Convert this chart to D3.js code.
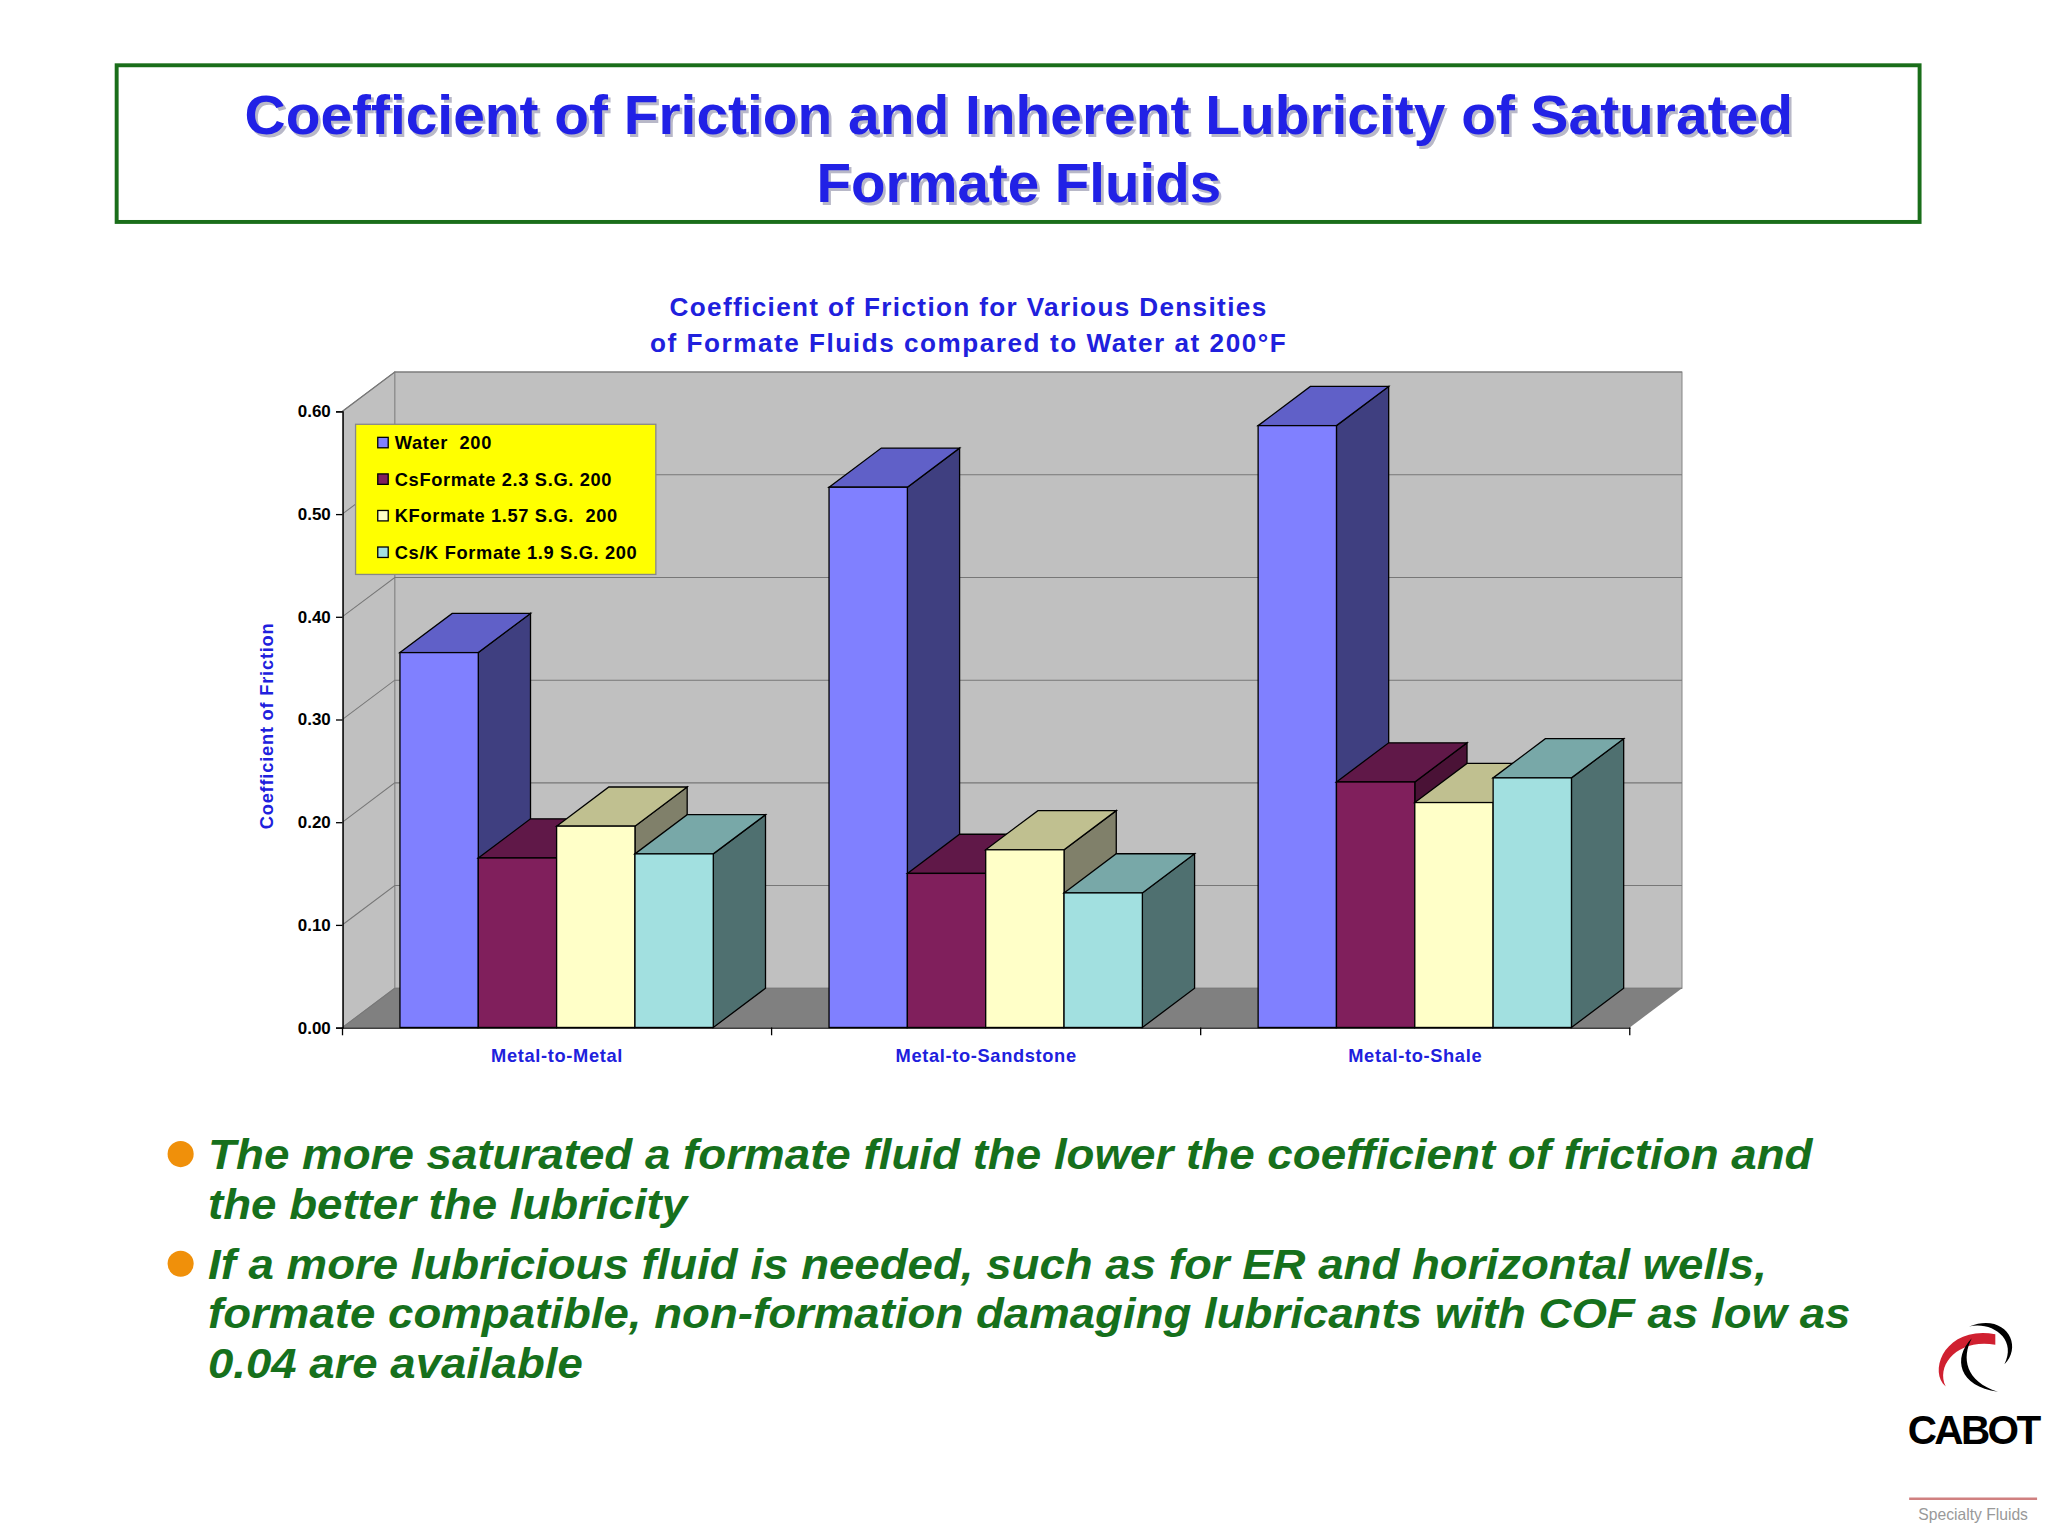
<!DOCTYPE html>
<html><head><meta charset="utf-8">
<script src="https://cdn.jsdelivr.net/npm/d3@7"></script>
<style>body{margin:0;background:#fff}svg{display:block}text{white-space:pre}</style>
</head><body>
<svg id="c" width="2048" height="1534" viewBox="0 0 1568 1175"></svg>
<script>
const categories = ["Metal-to-Metal","Metal-to-Sandstone","Metal-to-Shale"];
const seriesNames = ["Water  200","CsFormate 2.3 S.G. 200","KFormate 1.57 S.G.  200","Cs/K Formate 1.9 S.G. 200"];
const water = [0.365,0.526,0.586];
const csFormate = [0.165,0.150,0.239];
const kFormate = [0.196,0.173,0.219];
const csKFormate = [0.169,0.131,0.243];
const yTicks = [0,0.1,0.2,0.3,0.4,0.5,0.6];
const series = [water,csFormate,kFormate,csKFormate];
const colors = [
 {front:"#8080ff",top:"#6060c8",side:"#3f3f80"},
 {front:"#801f5c",top:"#601848",side:"#4a1236"},
 {front:"#ffffc8",top:"#c0c090",side:"#80806a"},
 {front:"#a2e0e0",top:"#78a8a8",side:"#4f7070"}];
const svg = d3.select("#c");
const font = "'Liberation Sans', Arial, sans-serif";
svg.append("rect").attr("x",89).attr("y",50).attr("width",1381).attr("height",120).attr("fill","none").attr("stroke","#1a6e1a").attr("stroke-width",3);
[["Coefficient of Friction and Inherent Lubricity of Saturated",88,1186],["Formate Fluids",140,310]].forEach(([t,y,len])=>{
  [[782,y+2,"#b8b8c8"],[780,y,"#2121e6"]].forEach(([xx,yy,f])=>
  svg.append("text").attr("x",xx).attr("y",yy).attr("dy","0.35em").attr("text-anchor","middle").attr("font-family",font).attr("font-weight","bold").attr("font-size",42).attr("textLength",len).attr("lengthAdjust","spacingAndGlyphs").attr("fill",f).text(t));
});
[["Coefficient of Friction for Various Densities",235,457],["of Formate Fluids compared to Water at 200°F",263,487]].forEach(([t,y,len])=>
 svg.append("text").attr("x",741).attr("y",y).attr("dy","0.35em").attr("text-anchor","middle").attr("font-family",font).attr("font-weight","bold").attr("font-size",20).attr("textLength",len).attr("fill","#2020dd").text(t));
const DX=40, DY=-30, X0=262, X1=1248, Yb=787;
const y = d3.scaleLinear().domain([0,0.6]).range([787,315]);
const x = d3.scaleBand().domain(categories).range([X0,X1]);
const g = svg.append("g");
g.append("polygon").attr("points",[[X0+DX,y(0.6)+DY],[X1+DX,y(0.6)+DY],[X1+DX,Yb+DY],[X0+DX,Yb+DY]].join(" ")).attr("fill","#c0c0c0").attr("stroke","#888").attr("stroke-width",0.8);
g.append("polygon").attr("points",[[X0,y(0.6)],[X0+DX,y(0.6)+DY],[X0+DX,Yb+DY],[X0,Yb]].join(" ")).attr("fill","#c0c0c0").attr("stroke","#888").attr("stroke-width",0.8);
g.append("polygon").attr("points",[[X0,Yb],[X0+DX,Yb+DY],[X1+DX,Yb+DY],[X1,Yb]].join(" ")).attr("fill","#808080");
yTicks.forEach(v=>{
  g.append("polyline").attr("points",[[X0,y(v)],[X0+DX,y(v)+DY],[X1+DX,y(v)+DY]].join(" ")).attr("fill","none").attr("stroke","#777").attr("stroke-width",0.8);
});
const ya = d3.axisLeft(y).tickValues(yTicks).tickFormat(d3.format(".2f")).tickSize(5);
const yg = svg.append("g").attr("transform",`translate(${X0},0)`).call(ya);
yg.selectAll("text").attr("font-family",font).attr("font-weight","bold").attr("font-size",13).attr("fill","#000").attr("dx",-1);
const xa = d3.axisBottom(x).tickSize(0);
const xg = svg.append("g").attr("transform",`translate(0,${Yb})`).call(xa);
xg.selectAll("text").attr("font-family",font).attr("font-weight","bold").attr("font-size",14).attr("fill","#2020dd").attr("dy","1.65em").attr("letter-spacing",0.5);
[X0,...categories.map(c=>x(c)+x.bandwidth())].forEach(px=>xg.append("line").attr("x1",px).attr("x2",px).attr("y1",0).attr("y2",6).attr("stroke","#000"));
svg.selectAll(".domain").attr("stroke","#000");
svg.append("text").attr("transform","translate(209,556) rotate(-90)").attr("text-anchor","middle").attr("font-family",font).attr("font-weight","bold").attr("font-size",14).attr("letter-spacing",0.6).attr("fill","#2020dd").text("Coefficient of Friction");
const bw = 60, off = 44;
categories.forEach((c,ci)=>{
  series.forEach((s,si)=>{
    const v=s[ci], x0=x(c)+off+si*bw, yt=y(v), col=colors[si];
    const bg=g.append("g").attr("stroke","#000").attr("stroke-width",1);
    bg.append("polygon").attr("points",[[x0+bw,yt],[x0+bw+DX,yt+DY],[x0+bw+DX,Yb+DY],[x0+bw,Yb]].join(" ")).attr("fill",col.side);
    bg.append("polygon").attr("points",[[x0,yt],[x0+DX,yt+DY],[x0+bw+DX,yt+DY],[x0+bw,yt]].join(" ")).attr("fill",col.top);
    bg.append("rect").attr("x",x0).attr("y",yt).attr("width",bw).attr("height",Yb-yt).attr("fill",col.front);
  });
});
const lg = svg.append("g");
lg.append("rect").attr("x",272).attr("y",325).attr("width",230).attr("height",115).attr("fill","#ffff00").attr("stroke","#888");
seriesNames.forEach((n,i)=>{
  const yy=339+i*28;
  lg.append("rect").attr("x",289).attr("y",yy-4).attr("width",8).attr("height",8).attr("fill",colors[i].front).attr("stroke","#000");
  lg.append("text").attr("x",302).attr("y",yy).attr("dy","0.35em").attr("font-family",font).attr("font-weight","bold").attr("font-size",14).attr("letter-spacing",0.5).text(n);
});
const bul=[[884,["The more saturated a formate fluid the lower the coefficient of friction and","the better the lubricity"],[1229,367]],[968,["If a more lubricious fluid is needed, such as for ER and horizontal wells,","formate compatible, non-formation damaging lubricants with COF as low as","0.04 are available"],[1194,1258,287]]];
bul.forEach(([y0,lines,lens])=>{
  svg.append("circle").attr("cx",138).attr("cy",y0).attr("r",10).attr("fill","#f0900a");
  lines.forEach((t,i)=>svg.append("text").attr("x",159).attr("y",y0+i*38).attr("dy","0.35em").attr("font-family",font).attr("font-weight","bold").attr("font-style","italic").attr("font-size",33).attr("textLength",lens[i]).attr("lengthAdjust","spacingAndGlyphs").attr("fill","#16701c").text(t));
});
const L=svg.append("g");
L.append("path").attr("d","M1528,1022 C1490,1015 1476,1050 1490,1062 C1482,1045 1500,1025 1528,1030 Z").attr("fill","#d02030");
L.append("path").attr("d","M1508,1016 C1535,1005 1550,1030 1535,1045 C1545,1025 1525,1012 1508,1016 Z").attr("fill","#000");
L.append("path").attr("d","M1510,1025 C1495,1040 1500,1062 1530,1066 C1505,1058 1502,1040 1510,1025 Z").attr("fill","#000");
L.append("text").attr("x",1511).attr("y",1095).attr("dy","0.35em").attr("text-anchor","middle").attr("font-family",font).attr("font-weight","bold").attr("font-size",31).attr("letter-spacing",-2).text("CABOT");
L.append("line").attr("x1",1462).attr("x2",1560).attr("y1",1148).attr("y2",1148).attr("stroke","#d08080").attr("stroke-width",2);
L.append("text").attr("x",1511).attr("y",1160).attr("dy","0.35em").attr("text-anchor","middle").attr("font-family",font).attr("font-size",12).attr("fill","#999").text("Specialty Fluids");
</script></body></html>
